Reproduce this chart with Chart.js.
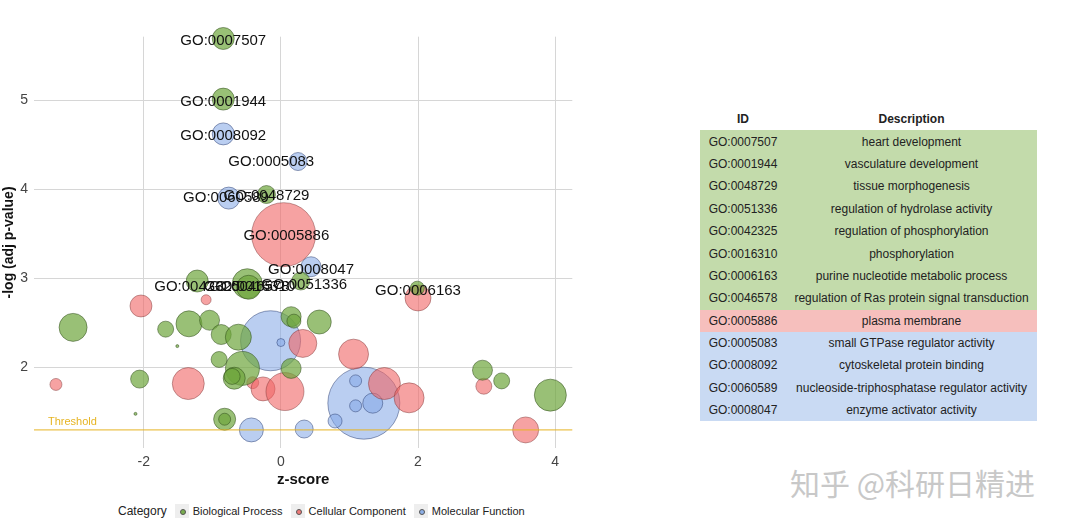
<!DOCTYPE html>
<html><head><meta charset="utf-8">
<script src="https://cdn.jsdelivr.net/npm/chart.js@4"></script>
<style>
body{margin:0;width:1080px;height:524px;background:#fff;font-family:Arial,"Liberation Sans",sans-serif;position:relative;overflow:hidden}
#wrap{position:absolute;left:-3px;top:0;width:612px;height:489px}
#legend{position:absolute;left:118px;top:504px;font-size:11px;color:#222;display:flex;align-items:center}
#legend .k{display:inline-block;width:14px;height:14px;background:#eee;margin:0 4px 0 8px;position:relative}
#legend .k i{position:absolute;left:5px;top:5px;width:4px;height:4px;border-radius:50%;border:0.5px solid #555}
table{position:absolute;left:700px;top:108px;border-collapse:collapse;font-size:12px;color:#222}
td,th{height:22.4px;padding:0 4px;text-align:center;white-space:nowrap}
th{font-weight:bold}
td.id{width:78px}td.d{width:243px}
.g td{background:#c3dbab}.r td{background:#f6bfbd}.b td{background:#c9daf3}
#wm{position:absolute;left:790px;top:460px;font-size:30px;color:#c8c8c8;font-family:"Noto Sans CJK SC",sans-serif}
</style></head><body>
<div id="wrap"><canvas id="c"></canvas></div>
<div id="legend"><span style="font-size:12px">Category</span>
<span class="k"><i style="background:#7aae4f"></i></span>Biological Process
<span class="k"><i style="background:#ef7a78"></i></span>Cellular Component
<span class="k"><i style="background:#8eb0e8"></i></span>Molecular Function</div>
<table id="tbl"></table>
<div id="wm">知乎 @科研日精进</div>
<script>
const bpX=[-0.84,-0.84,-0.21,-1.22,-0.49,-0.47,0.29,1.99,-3.03,-1.68,-1.34,-1.04,-0.87,-0.62,0.15,0.19,0.56,-0.9,-0.56,-0.68,-0.71,0.15,-2.06,-0.82,-0.82,2.94,3.22,3.93,-1.51,-2.12];
const bpY=[5.69,5.01,3.94,2.97,2.94,2.9,2.97,2.89,2.45,2.43,2.49,2.53,2.37,2.34,2.57,2.52,2.51,2.09,1.99,1.88,1.9,1.99,1.87,1.42,1.42,1.97,1.85,1.69,2.24,1.48];
const bpR=[11,11,9,11,15,12,9,7,14,8,13,10,10,13,10,7,12,8,17,11,8,10,9,11,6,10,8,16,1.5,1.5];
const ccX=[0.04,-2.04,-1.09,0.32,1.06,-1.35,-0.41,-0.26,0.06,-3.28,1.51,1.87,2.96,3.57,2.0];
const ccY=[3.49,2.69,2.76,2.27,2.15,1.82,1.83,1.76,1.73,1.81,1.82,1.66,1.79,1.3,2.78];
const ccR=[32,11,5,14,15,16,6,12,19,6,16,15,8,13,13];
const mfX=[-0.84,0.25,-0.76,0.44,-0.15,0,1.21,1.09,1.09,1.34,0.79,-0.43,0.34];
const mfY=[4.62,4.31,3.9,3.13,2.3,2.28,1.6,1.85,1.57,1.6,1.4,1.3,1.31];
const mfR=[11,9,11,10,30,4,36,6,6,10,7,12,9];
const labels=[["GO:0007507",-0.84,5.66],["GO:0001944",-0.84,4.98],["GO:0008092",-0.84,4.6],["GO:0005083",-0.14,4.31],["GO:0048729",-0.21,3.92],["GO:0060589",-0.8,3.9],["GO:0005886",0.08,3.48],["GO:0008047",0.44,3.1],["GO:0042325",-1.22,2.9],["GO:0046578",-0.5,2.9],["GO:0016310",-0.42,2.9],["GO:0051336",0.34,2.93],["GO:0006163",2.0,2.86]];
const yTicks=[2,3,4,5];
const xTicks=[-2,0,2,4];
const tIds=["GO:0007507","GO:0001944","GO:0048729","GO:0051336","GO:0042325","GO:0016310","GO:0006163","GO:0046578","GO:0005886","GO:0005083","GO:0008092","GO:0060589","GO:0008047"];
const tDesc=["heart development","vasculature development","tissue morphogenesis","regulation of hydrolase activity","regulation of phosphorylation","phosphorylation","purine nucleotide metabolic process","regulation of Ras protein signal transduction","plasma membrane","small GTPase regulator activity","cytoskeletal protein binding","nucleoside-triphosphatase regulator activity","enzyme activator activity"];
const tCat=["g","g","g","g","g","g","g","g","r","b","b","b","b"];
let h='<tr><th>ID</th><th>Description</th></tr>';
tIds.forEach((id,i)=>h+=`<tr class="${tCat[i]}"><td class="id">${id}</td><td class="d">${tDesc[i]}</td></tr>`);
document.getElementById('tbl').innerHTML=h;
const mk=(X,Y,R)=>X.map((x,i)=>({x,y:Y[i],r:R[i]}));
const lab={id:'lab',afterDatasetsDraw(ch){const c=ch.ctx,xs=ch.scales.x,ys=ch.scales.y;c.save();
 c.strokeStyle='#e6b422';c.lineWidth=1;const ty=ys.getPixelForValue(1.3);c.beginPath();c.moveTo(ch.chartArea.left,ty);c.lineTo(ch.chartArea.right,ty);c.stroke();
 c.fillStyle='#e6b422';c.font='11px Arial';c.textAlign='left';c.textBaseline='bottom';c.fillText('Threshold',51,ty-2);
 c.fillStyle='#111';c.font='15px Arial';c.textAlign='center';c.textBaseline='middle';
 labels.forEach(l=>c.fillText(l[0],xs.getPixelForValue(l[1]),ys.getPixelForValue(l[2])));c.restore();}};
new Chart(document.getElementById('c'),{type:'bubble',
data:{datasets:[
{data:mk(bpX,bpY,bpR),backgroundColor:'rgba(110,165,60,0.7)',borderColor:'rgba(40,70,20,0.7)',borderWidth:0.7},
{data:mk(ccX,ccY,ccR),backgroundColor:'rgba(240,100,100,0.6)',borderColor:'rgba(110,40,40,0.6)',borderWidth:0.7},
{data:mk(mfX,mfY,mfR),backgroundColor:'rgba(130,165,230,0.55)',borderColor:'rgba(40,60,110,0.7)',borderWidth:0.7}]},
options:{responsive:true,maintainAspectRatio:false,animation:false,layout:{padding:{top:0,right:9}},clip:false,
plugins:{legend:{display:false},tooltip:{enabled:false}},
scales:{
x:{type:'linear',min:-3.6,max:4.25,afterBuildTicks:a=>{a.ticks=xTicks.map(v=>({value:v}))},
 grid:{color:'#d6d6d6',drawTicks:false},border:{display:false},
 ticks:{color:'#444',font:{size:14},padding:6},
 title:{display:true,text:'z-score',color:'#111',font:{size:15,weight:'bold'},padding:{top:-6,bottom:0}}},
y:{type:'linear',min:1.095,max:5.71,afterBuildTicks:a=>{a.ticks=yTicks.map(v=>({value:v}))},
 afterFit:a=>{a.width=37},
 grid:{color:'#d6d6d6',drawTicks:false},border:{display:false},
 ticks:{color:'#444',font:{size:14},padding:6},
 title:{display:true,text:'-log (adj p-value)',color:'#111',font:{size:14,weight:'bold'},padding:{bottom:0}}}}},
plugins:[lab]});
</script></body></html>
